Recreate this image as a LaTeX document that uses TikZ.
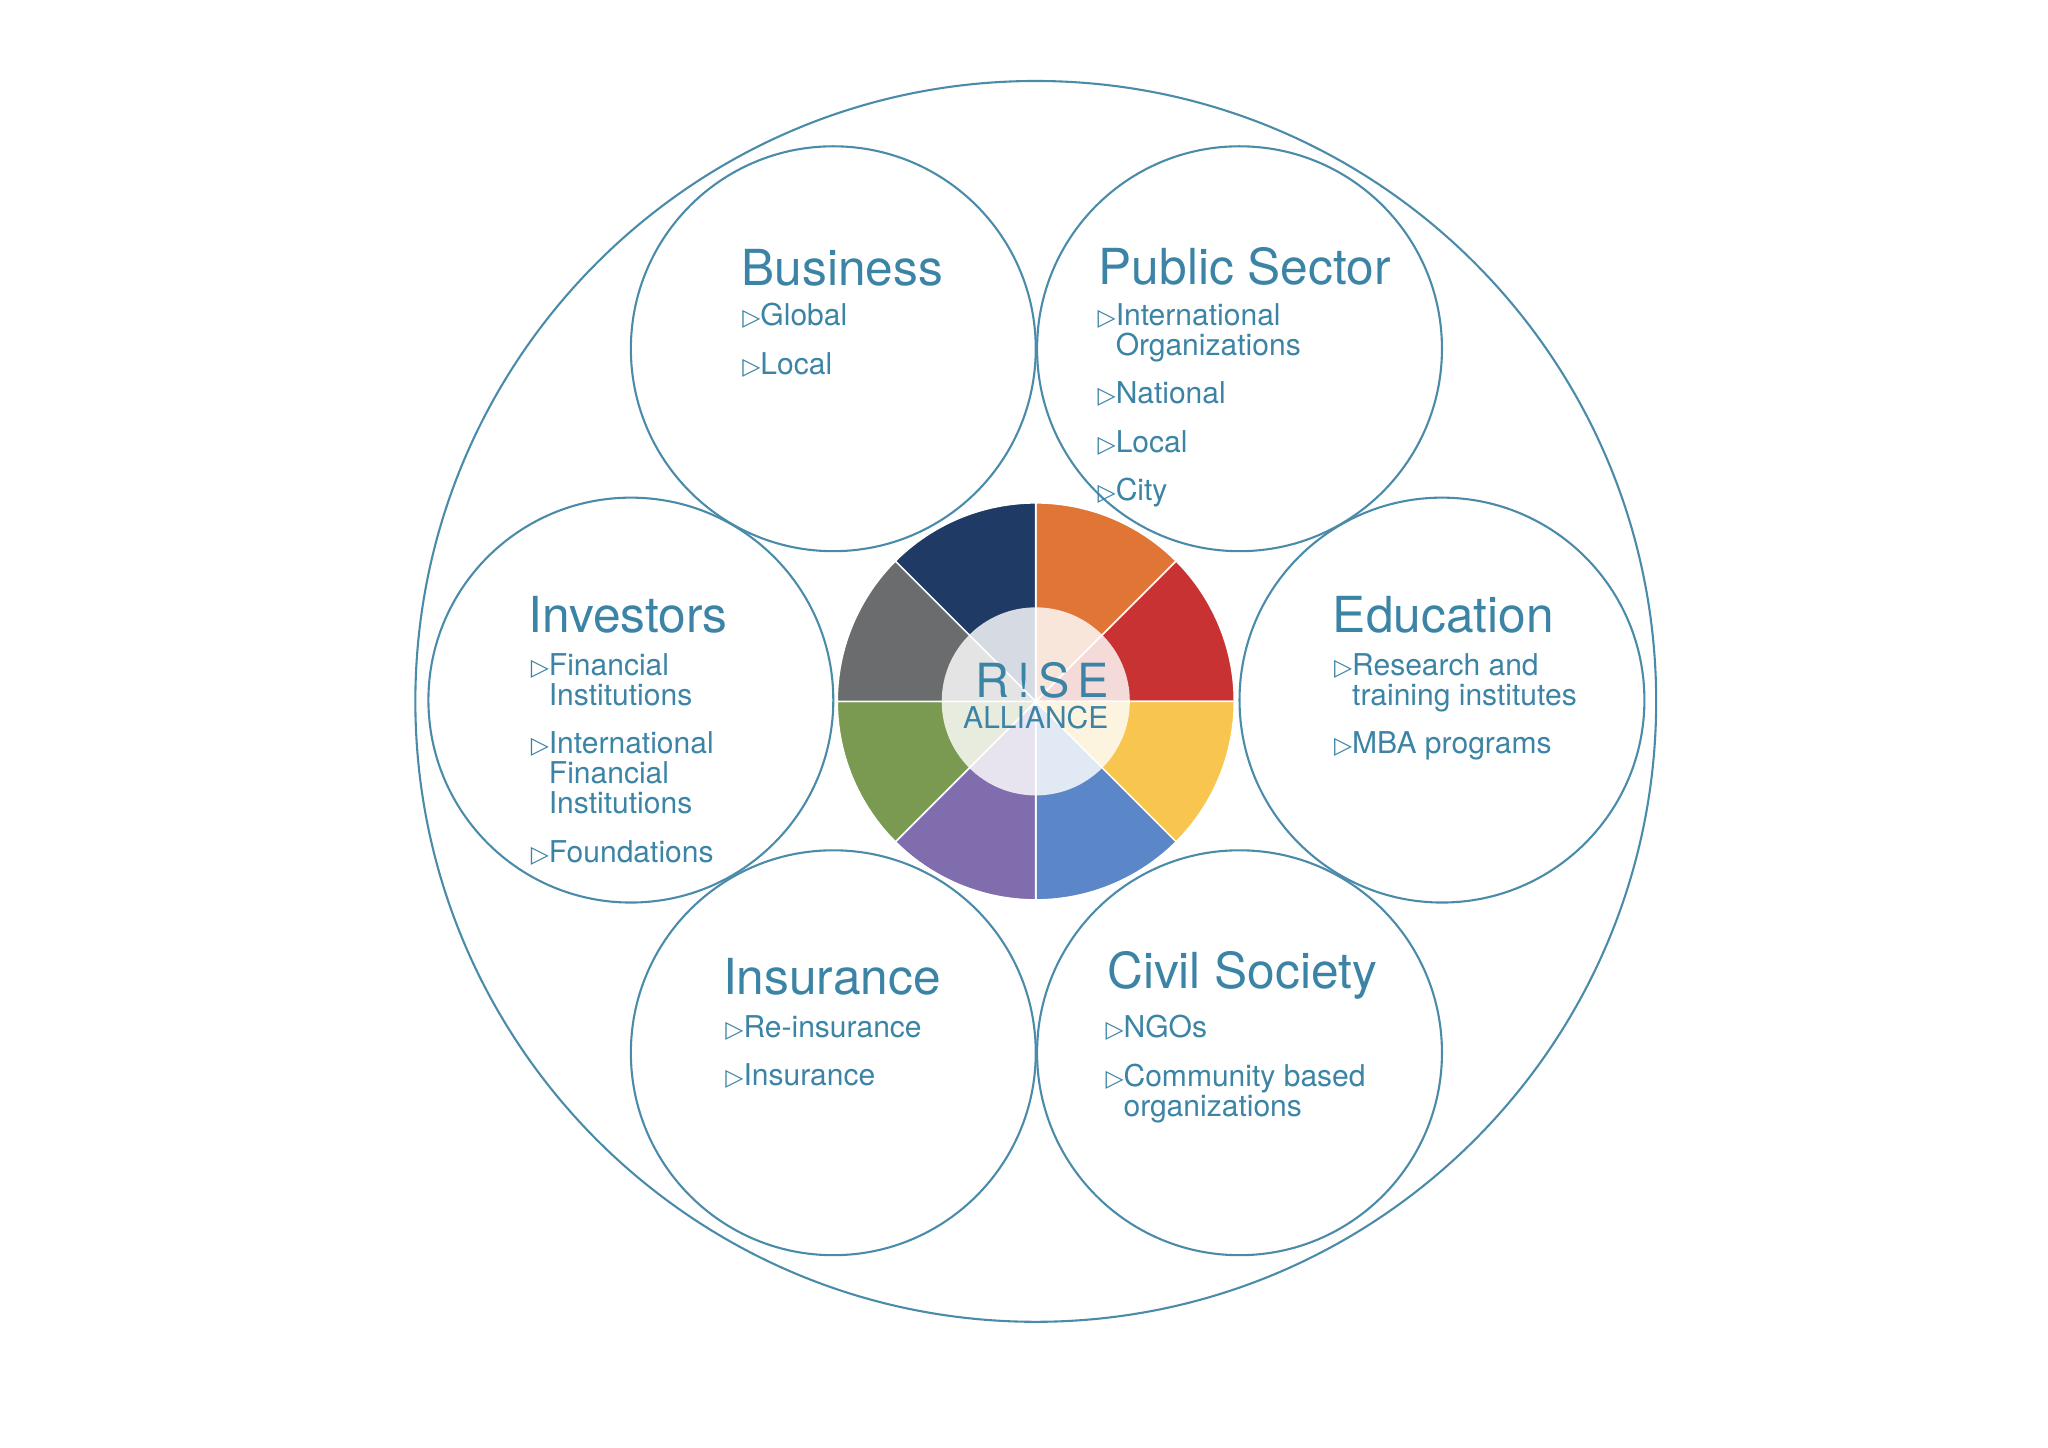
\documentclass[tikz,border=0pt]{standalone}
\usepackage{fontspec}
\setmainfont{TeX Gyre Heros}
\newfontfamily\djvfont{DejaVu Sans}
\definecolor{tc}{HTML}{3C84A6}
\definecolor{lc}{HTML}{4A8BAA}
\definecolor{cnavy}{HTML}{1F3A64}
\definecolor{corange}{HTML}{E07535}
\definecolor{cred}{HTML}{C83232}
\definecolor{cyellow}{HTML}{F8C54E}
\definecolor{cblue}{HTML}{5B87C8}
\definecolor{cpurple}{HTML}{7F6DAE}
\definecolor{cgreen}{HTML}{7A9A52}
\definecolor{cgray}{HTML}{6A6C6E}
\newcommand{\tri}{{\djvfont\fontsize{9pt}{9pt}\selectfont ▷}}
\newcommand{\ind}{\hphantom{\tri}}
\tikzset{
 ring/.style={draw=lc,line width=0.8pt},
 ttl/.style={text=tc,font=\fontsize{19pt}{22pt}\selectfont,anchor=center},
 items/.style={text=tc,font=\fontsize{11.5pt}{11.5pt}\selectfont,align=left,anchor=north west,inner sep=0pt}
}
\begin{document}
\begin{tikzpicture}[x=0.5pt,y=-0.5pt]
\fill[white] (0,0) rectangle (1568,1108);
\useasboundingbox (0,0) rectangle (1568,1108);
\draw[ring] (793,537) circle[radius=475];
\node[ring,circle,minimum size=155pt,inner sep=0pt] (bus) at (638,267) {};
\node[ring,circle,minimum size=155pt,inner sep=0pt] (pub) at (949,267) {};
\node[ring,circle,minimum size=155pt,inner sep=0pt] (inv) at (483,536) {};
\node[ring,circle,minimum size=155pt,inner sep=0pt] (edu) at (1104,536) {};
\node[ring,circle,minimum size=155pt,inner sep=0pt] (ins) at (638,806) {};
\node[ring,circle,minimum size=155pt,inner sep=0pt] (civ) at (949,806) {};
% wheel
\begin{scope}[shift={(793,537)},y=0.5pt]
\foreach \a/\c in {90/corange,45/cred,0/cyellow,-45/cblue,-90/cpurple,-135/cgreen,180/cgray,135/cnavy}{
 \fill[\c,draw=white,line width=0.6pt] (0,0) -- (\a:152) arc[start angle=\a,delta angle=-45,radius=152] -- cycle;
}
\fill[white,opacity=0.82] (0,0) circle[radius=72];
\end{scope}
\node[text=tc,font=\fontsize{18pt}{18pt}\selectfont] (rise) at (798,521) {R\,!\,S\,E};
\node[text=tc,font=\fontsize{11.5pt}{11.5pt}\selectfont] (all) at (793,549) {ALLIANCE};
% texts
\node[ttl] (t1) at (645,205) {Business};
\node[items] (i1) at (568,232) {\tri Global\\[7pt]\tri Local};
\node[ttl] (t2) at (953,204) {Public Sector};
\node[items] (i2) at (840,232) {\tri International\\ \ind Organizations\\[7pt]\tri National\\[7pt]\tri Local\\[7pt]\tri City};
\node[ttl] (t3) at (481,471) {Investors};
\node[items] (i3) at (406,500) {\tri Financial\\ \ind Institutions\\[7pt]\tri International\\ \ind Financial\\ \ind Institutions\\[7pt]\tri Foundations};
\node[ttl] (t4) at (1105,471) {Education};
\node[items] (i4) at (1021,500) {\tri Research and\\ \ind training institutes\\[7pt]\tri MBA programs};
\node[ttl] (t5) at (637,748) {Insurance};
\node[items] (i5) at (555,777) {\tri Re-insurance\\[7pt]\tri Insurance};
\node[ttl] (t6) at (951,747) {Civil Society};
\node[items] (i6) at (846,777) {\tri NGOs\\[7pt]\tri Community based\\ \ind organizations};
\end{tikzpicture}
\end{document}
